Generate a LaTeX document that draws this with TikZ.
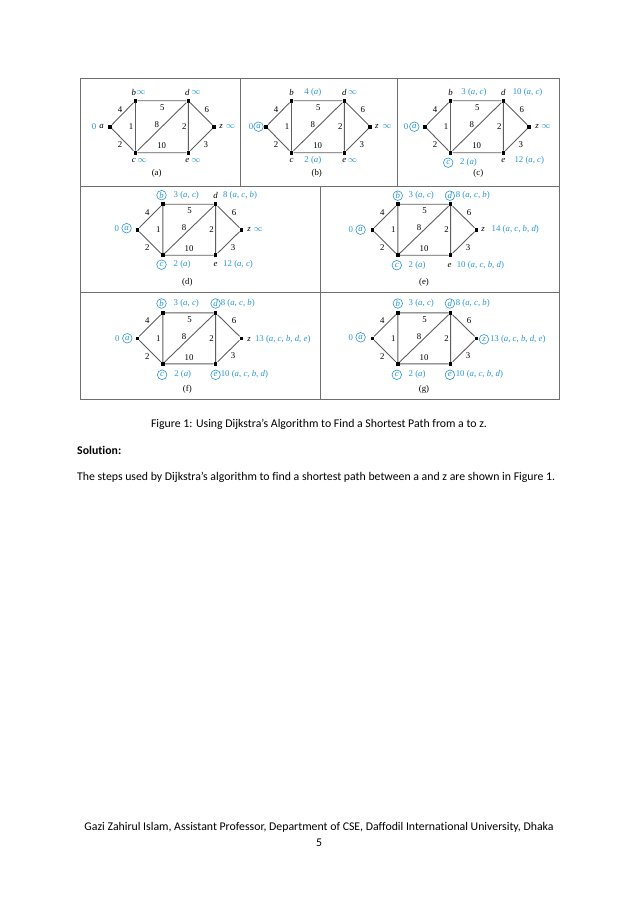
\documentclass[tikz,border=0pt]{standalone}
\usepackage{fontspec}
\setmainfont[RawFeature={-liga;-clig;-dlig}]{Carlito}
\newfontfamily\gfont{Liberation Serif}
\usetikzlibrary{calc}
\definecolor{rblue}{RGB}{40,150,215}
\definecolor{edgegray}{RGB}{95,95,95}
\definecolor{framegray}{RGB}{110,110,110}
\tikzset{
 vtx/.style={rectangle, fill=black, inner sep=0pt, minimum size=3.6pt},
 edg/.style={draw=edgegray, line width=0.9pt},
 wt/.style={font=\gfont\fontsize{8.8}{9}\selectfont, inner sep=0pt},
 lab/.style={font=\gfont\itshape\fontsize{8.8}{9}\selectfont, inner sep=0pt},
 bl/.style={text=rblue, font=\gfont\fontsize{8.8}{9}\selectfont, inner sep=0pt},
 blw/.style={bl, anchor=west},
 circ/.style={circle, draw=rblue, text=rblue, inner sep=0pt, minimum size=9.6pt, font=\gfont\itshape\fontsize{8.8}{9}\selectfont, line width=0.6pt},
 frm/.style={draw=framegray, line width=1pt},
 body/.style={font=\fontsize{11.8}{14}\selectfont, inner sep=0pt}
}
\newcommand\dgraph[4]{%
 \node[vtx] (#1a) at (#2,#3) {};
 \node[vtx] (#1b) at ($(#1a)+(25.5,-#4)$) {};
 \node[vtx] (#1c) at ($(#1a)+(25.5,#4)$) {};
 \node[vtx] (#1d) at ($(#1a)+(78.3,-#4)$) {};
 \node[vtx] (#1e) at ($(#1a)+(78.3,#4)$) {};
 \node[vtx] (#1z) at ($(#1a)+(104.2,0)$) {};
 \draw[edg] (#1a)--(#1b) (#1a)--(#1c) (#1b)--(#1d) (#1b)--(#1c) (#1c)--(#1d)
   (#1c)--(#1e) (#1d)--(#1e) (#1d)--(#1z) (#1e)--(#1z);
 \node[wt] (#1w1) at ($(#1a)+(10,-17.3)$) {4};
 \node[wt] (#1w2) at ($(#1a)+(10,18)$) {2};
 \node[wt] (#1w3) at ($(#1a)+(21,0)$) {1};
 \node[wt] (#1w4) at ($(#1a)+(52.3,-19)$) {5};
 \node[wt] (#1w5) at ($(#1a)+(46.7,-1.7)$) {8};
 \node[wt] (#1w6) at ($(#1a)+(74.3,0)$) {2};
 \node[wt] (#1w7) at ($(#1a)+(51.7,19)$) {10};
 \node[wt] (#1w8) at ($(#1a)+(96.7,-17.5)$) {6};
 \node[wt] (#1w9) at ($(#1a)+(95.7,17.5)$) {3};
}
\newcommand\itx[1]{\textit{#1}}
\begin{document}
\begin{tikzpicture}[x=1pt,y=-1pt]
\useasboundingbox (0,0) rectangle (638,902);
\fill[white] (0,0) rectangle (638,902);
% frame
\draw[frm] (80.5,78) rectangle (559,399);
\draw[frm] (80.5,186) -- (559,186) (80.5,292) -- (559,292)
  (240,78) -- (240,186) (397,78) -- (397,186) (320,186) -- (320,399);
% ---------- (a)
\dgraph{A}{110}{126.7}{26}
\node[lab] (Aal) at ($(Aa)+(-8.5,0)$) {a};
\node[bl] (Aa0) at ($(Aa)+(-16,0)$) {0};
\node[lab] (Abl) at ($(Ab)+(-1.7,-8.5)$) {b};
\node[bl] (Abv) at ($(Ab)+(5.5,-8.5)$) {$\infty$};
\node[lab] (Adl) at ($(Ad)+(-1,-8.5)$) {d};
\node[bl] (Adv) at ($(Ad)+(7.7,-8.5)$) {$\infty$};
\node[lab] (Azl) at ($(Az)+(7,0)$) {z};
\node[bl] (Azv) at ($(Az)+(16.3,0)$) {$\infty$};
\node[lab] (Acl) at ($(Ac)+(-1.7,7.5)$) {c};
\node[bl] (Acv) at ($(Ac)+(6.7,7.5)$) {$\infty$};
\node[lab] (Ael) at ($(Ae)+(-1,7.5)$) {e};
\node[bl] (Aev) at ($(Ae)+(7.7,7.5)$) {$\infty$};
\node[wt] (Acap) at (156.7,173.3) {(a)};
% ---------- (b)
\dgraph{B}{266}{126.7}{26}
\node[circ] (Bal) at ($(Ba)+(-7.5,0)$) {a};
\node[bl] (Ba0) at ($(Ba)+(-15,0)$) {0};
\node[lab] (Bbl) at ($(Bb)+(0,-8.5)$) {b};
\node[blw] (Bbv) at ($(Bb)+(12.7,-8.5)$) {4 (\itx{a})};
\node[lab] (Bdl) at ($(Bd)+(0,-8.5)$) {d};
\node[bl] (Bdv) at ($(Bd)+(8.3,-8.5)$) {$\infty$};
\node[lab] (Bzl) at ($(Bz)+(6.7,0)$) {z};
\node[bl] (Bzv) at ($(Bz)+(16.7,0)$) {$\infty$};
\node[lab] (Bcl) at ($(Bc)+(0,7.5)$) {c};
\node[blw] (Bcv) at ($(Bc)+(12.7,7.5)$) {2 (\itx{a})};
\node[lab] (Bel) at ($(Be)+(0,7.5)$) {e};
\node[bl] (Bev) at ($(Be)+(8.3,7.5)$) {$\infty$};
\node[wt] (Bcap) at (316.7,173.3) {(b)};
% ---------- (c)
\dgraph{C}{425}{126.7}{26}
\node[circ] (Cal) at ($(Ca)+(-10.7,0)$) {a};
\node[bl] (Ca0) at ($(Ca)+(-19,0)$) {0};
\node[lab] (Cbl) at ($(Cb)+(0,-8.5)$) {b};
\node[blw] (Cbv) at ($(Cb)+(10.7,-8.5)$) {3 (\itx{a}, \itx{c})};
\node[lab] (Cdl) at ($(Cd)+(0,-8.5)$) {d};
\node[blw] (Cdv) at ($(Cd)+(9.3,-8.5)$) {10 (\itx{a}, \itx{c})};
\node[lab] (Czl) at ($(Cz)+(8,0)$) {z};
\node[bl] (Czv) at ($(Cz)+(16.7,0)$) {$\infty$};
\node[circ] (Ccl) at ($(Cc)+(-2.3,10)$) {c};
\node[blw] (Ccv) at ($(Cc)+(9.3,10)$) {2 (\itx{a})};
\node[lab] (Cel) at ($(Ce)+(0,7.5)$) {e};
\node[blw] (Cev) at ($(Ce)+(11,7.5)$) {12 (\itx{a}, \itx{c})};
\node[wt] (Ccap) at (478.3,173.3) {(c)};
% ---------- (d)
\dgraph{D}{137.3}{229.7}{25.5}
\node[circ] (Dal) at ($(Da)+(-10.7,-1.5)$) {a};
\node[bl] (Da0) at ($(Da)+(-20.5,-1.5)$) {0};
\node[circ] (Dbl) at ($(Db)+(-1.3,-9)$) {b};
\node[blw] (Dbv) at ($(Db)+(10.7,-9)$) {3 (\itx{a}, \itx{c})};
\node[lab] (Ddl) at ($(Dd)+(0,-9)$) {d};
\node[blw] (Ddv) at ($(Dd)+(7.3,-9)$) {8 (\itx{a}, \itx{c}, \itx{b})};
\node[lab] (Dzl) at ($(Dz)+(7.7,0)$) {z};
\node[bl] (Dzv) at ($(Dz)+(16.7,0)$) {$\infty$};
\node[circ] (Dcl) at ($(Dc)+(-1.3,9.5)$) {c};
\node[blw] (Dcv) at ($(Dc)+(10.7,9.5)$) {2 (\itx{a})};
\node[lab] (Del) at ($(De)+(0,9.5)$) {e};
\node[blw] (Dev) at ($(De)+(7.5,9.5)$) {12 (\itx{a}, \itx{c})};
\node[wt] (Dcap) at (187.3,282.3) {(d)};
% ---------- (e)
\dgraph{E}{372.3}{229.7}{25.5}
\node[circ] (Eal) at ($(Ea)+(-11.7,0)$) {a};
\node[bl] (Ea0) at ($(Ea)+(-21.5,0)$) {0};
\node[circ] (Ebl) at ($(Eb)+(0,-8.5)$) {b};
\node[blw] (Ebv) at ($(Eb)+(10.7,-8.5)$) {3 (\itx{a}, \itx{c})};
\node[circ] (Edl) at ($(Ed)+(-0.7,-8.5)$) {d};
\node[blw] (Edv) at ($(Ed)+(5,-8.5)$) {8 (\itx{a}, \itx{c}, \itx{b})};
\node[lab] (Ezl) at ($(Ez)+(6.7,0)$) {z};
\node[blw] (Ezv) at ($(Ez)+(15,0)$) {14 (\itx{a}, \itx{c}, \itx{b}, \itx{d})};
\node[circ] (Ecl) at ($(Ec)+(-1,10)$) {c};
\node[blw] (Ecv) at ($(Ec)+(10.7,10)$) {2 (\itx{a})};
\node[lab] (Eel) at ($(Ee)+(-1,10)$) {e};
\node[blw] (Eev) at ($(Ee)+(6,10)$) {10 (\itx{a}, \itx{c}, \itx{b}, \itx{d})};
\node[wt] (Ecap) at (424,282.3) {(e)};
% ---------- (f)
\dgraph{F}{137.3}{338.3}{25.5}
\node[circ] (Fal) at ($(Fa)+(-10,0)$) {a};
\node[bl] (Fa0) at ($(Fa)+(-20,0)$) {0};
\node[circ] (Fbl) at ($(Fb)+(-1.3,-9.3)$) {b};
\node[blw] (Fbv) at ($(Fb)+(10.7,-9.3)$) {3 (\itx{a}, \itx{c})};
\node[circ] (Fdl) at ($(Fd)+(0,-9.3)$) {d};
\node[blw] (Fdv) at ($(Fd)+(5,-9.3)$) {8 (\itx{a}, \itx{c}, \itx{b})};
\node[lab] (Fzl) at ($(Fz)+(7.7,1)$) {z};
\node[blw] (Fzv) at ($(Fz)+(13.3,1)$) {13 (\itx{a}, \itx{c}, \itx{b}, \itx{d}, \itx{e})};
\node[circ] (Fcl) at ($(Fc)+(-0.7,11)$) {c};
\node[blw] (Fcv) at ($(Fc)+(11.3,11)$) {2 (\itx{a})};
\node[circ] (Fel) at ($(Fe)+(0,11)$) {e};
\node[blw] (Fev) at ($(Fe)+(5,11)$) {10 (\itx{a}, \itx{c}, \itx{b}, \itx{d})};
\node[wt] (Fcap) at (187.3,389.3) {(f)};
% ---------- (g)
\dgraph{G}{372.3}{338.3}{25.5}
\node[circ] (Gal) at ($(Ga)+(-11.7,-1)$) {a};
\node[bl] (Ga0) at ($(Ga)+(-21.5,-1)$) {0};
\node[circ] (Gbl) at ($(Gb)+(0,-9.3)$) {b};
\node[blw] (Gbv) at ($(Gb)+(10.7,-9.3)$) {3 (\itx{a}, \itx{c})};
\node[circ] (Gdl) at ($(Gd)+(-0.7,-9.3)$) {d};
\node[blw] (Gdv) at ($(Gd)+(5,-9.3)$) {8 (\itx{a}, \itx{c}, \itx{b})};
\node[circ] (Gzl) at ($(Gz)+(7.5,1)$) {z};
\node[blw] (Gzv) at ($(Gz)+(13.3,1)$) {13 (\itx{a}, \itx{c}, \itx{b}, \itx{d}, \itx{e})};
\node[circ] (Gcl) at ($(Gc)+(-1,11)$) {c};
\node[blw] (Gcv) at ($(Gc)+(10.7,11)$) {2 (\itx{a})};
\node[circ] (Gel) at ($(Ge)+(-0.7,11)$) {e};
\node[blw] (Gev) at ($(Ge)+(5,11)$) {10 (\itx{a}, \itx{c}, \itx{b}, \itx{d})};
\node[wt] (Gcap) at (424,389.3) {(g)};
% ---------- page text
\node[body] (cap) at (319,424) {Figure 1: Using Dijkstra’s Algorithm to Find a Shortest Path from a to z.};
\node[body, anchor=west, font=\fontsize{11.8}{14}\selectfont\bfseries] (sol) at (77,450) {Solution:};
\node[body, anchor=west] (txt) at (77,477) {The steps used by Dijkstra’s algorithm to find a shortest path between a and z are shown in Figure 1.};
\node[body] (foot) at (319,827.3) {Gazi Zahirul Islam, Assistant Professor, Department of CSE, Daffodil International University, Dhaka};
\node[body] (pg) at (319,842.7) {5};
\end{tikzpicture}
\end{document}
